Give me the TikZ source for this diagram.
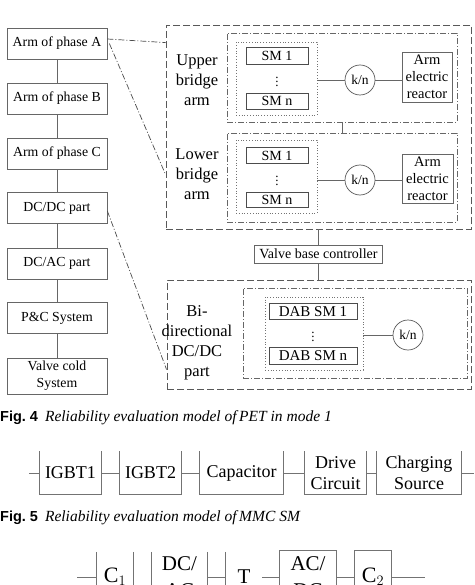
\documentclass[tikz,border=0pt]{standalone}
\usepackage{fontspec}
\setmainfont{Liberation Serif}
\newfontfamily\capsans{Liberation Sans}
\begin{document}
\begin{tikzpicture}[x=1pt,y=-1pt,
  lbox/.style={draw=black!60, line width=0.7pt, minimum width=100pt, minimum height=31pt, inner sep=0pt, align=center, font=\fontsize{13.8}{17}\selectfont},
  link/.style={draw=black!60, line width=0.7pt},
  bigdash/.style={draw=black!65, line width=0.9pt, dash pattern=on 7pt off 3pt, inner sep=0pt},
  armbox/.style={draw=black!60, line width=0.8pt, dash pattern=on 6pt off 2pt on 1pt off 2pt, inner sep=0pt},
  stackbox/.style={draw=black!55, line width=0.8pt, dotted, inner sep=0pt},
  smbox/.style={draw=black!70, line width=0.8pt, inner sep=0pt, font=\fontsize{14}{16}\selectfont},
  dotsnode/.style={inner sep=0pt, font=\fontsize{13}{14}\selectfont},
  knode/.style={draw=black!65, line width=0.7pt, circle, minimum size=30pt, inner sep=0pt, font=\fontsize{13.5}{16}\selectfont},
  reactor/.style={draw=black!60, line width=0.7pt, inner sep=0pt, align=center, font=\fontsize{14.5}{17}\selectfont},
  sidelabel/.style={align=center, inner sep=0pt, font=\fontsize{16.5}{20}\selectfont},
  conn/.style={draw=black!70, line width=0.7pt, dash pattern=on 6pt off 2pt on 1pt off 2pt},
  rowbox/.style={inner sep=0pt, minimum height=43pt, align=center, font=\fontsize{18}{21}\selectfont},
  rowline/.style={draw=black!55, line width=0.8pt},
  capnode/.style={anchor=west, inner sep=0pt}
]
\useasboundingbox (0,0) rectangle (474,585);

% left column
\node[lbox] (A) at (57,43.5) {Arm of phase A};
\node[lbox] (B) at (57,98.5) {Arm of phase B};
\node[lbox] (C) at (57,153.5) {Arm of phase C};
\node[lbox] (dcdc) at (57,208) {DC/DC part};
\node[lbox] (dcac) at (57,263.5) {DC/AC part};
\node[lbox] (pc) at (57,318) {P\&C System};
\node[lbox, minimum height=36pt] (vc) at (57,376) {Valve cold\\System};
\draw[link] (A) -- (B);
\draw[link] (B) -- (C);
\draw[link] (C) -- (dcdc);
\draw[link] (dcdc) -- (dcac);
\draw[link] (dcac) -- (pc);
\draw[link] (pc) -- (vc);

% MMC big box
\node[bigdash, minimum width=305pt, minimum height=204pt] (mmc) at (318.5,127) {};
\node[armbox, minimum width=230pt, minimum height=89pt] (upper) at (342,77.5) {};
\node[armbox, minimum width=230pt, minimum height=89pt] (lower) at (342,177.5) {};
\draw[link] (upper) -- (lower);

\node[sidelabel] (ulab) at (197,80) {Upper\\bridge\\arm};
\node[sidelabel] (llab) at (197,174) {Lower\\bridge\\arm};

% upper arm content
\node[stackbox, minimum width=81pt, minimum height=73pt] (ustack) at (276.5,78.5) {};
\node[smbox, minimum width=62pt, minimum height=17pt] (usm1) at (277,55.5) {SM 1};
\node[smbox, minimum width=62pt, minimum height=16pt] (usmn) at (277,101) {SM n};
\node[dotsnode] (udots) at (277,79) {$\vdots$};
\node[knode] (uk) at (360,80) {k/n};
\node[reactor, minimum width=50pt, minimum height=50pt] (ur) at (427,77) {Arm\\electric\\reactor};
\draw[link] (ustack.east |- uk) -- (uk);
\draw[link] (uk) -- (ur.west |- uk);

% lower arm content
\node[stackbox, minimum width=81pt, minimum height=73pt] (lstack) at (276.5,176.5) {};
\node[smbox, minimum width=62pt, minimum height=16pt] (lsm1) at (277,155.5) {SM 1};
\node[smbox, minimum width=62pt, minimum height=15pt] (lsmn) at (277,200) {SM n};
\node[dotsnode] (ldots) at (277,178) {$\vdots$};
\node[knode] (lk) at (360,180) {k/n};
\node[reactor, minimum width=51pt, minimum height=49pt] (lr) at (427.5,178.5) {Arm\\electric\\reactor};
\draw[link] (lstack.east |- lk) -- (lk);
\draw[link] (lk) -- (lr.west |- lk);

% valve base controller
\node[draw=black!60, line width=0.7pt, minimum width=128pt, minimum height=18pt, inner sep=0pt, font=\fontsize{14}{16}\selectfont] (vbc) at (318.5,254) {Valve base controller};

% bidirectional box
\node[bigdash, minimum width=304pt, minimum height=109pt] (bidir) at (319,334.5) {};
\draw[link] (mmc.south) -- (vbc.north);
\draw[link] (vbc.south) -- (vbc.south |- bidir.north);
\node[armbox, minimum width=224pt, minimum height=90pt] (dabarm) at (355,333) {};
\node[stackbox, minimum width=98pt, minimum height=73pt] (dstack) at (314,333.5) {};
\node[smbox, minimum width=88pt, minimum height=16pt, font=\fontsize{15}{17}\selectfont] (dsm1) at (313,311.5) {DAB SM 1};
\node[smbox, minimum width=88pt, minimum height=17pt, font=\fontsize{15}{17}\selectfont] (dsmn) at (313,355.5) {DAB SM n};
\node[dotsnode] (ddots) at (313,334) {$\vdots$};
\node[knode] (dk) at (408,335) {k/n};
\draw[link] (dstack.east |- dk) -- (dk);
\node[sidelabel] (blab) at (197,343) {Bi-\\directional\\DC/DC\\part};

% dash-dot connectors
\draw[conn] ([yshift=4.5pt]A.east) -- ([yshift=-18pt]mmc.north west);
\draw[conn] ([xshift=2pt]A.east) -- ([yshift=-150pt]mmc.north west);
\draw[conn] ([yshift=-3pt]dcdc.east) -- ([yshift=-90pt]bidir.north west);

% Fig. 4 caption
\node[capnode] (cap4) at (0,418) {{\capsans\bfseries\fontsize{14.5}{16}\selectfont Fig.~4}\hspace{7pt}{\itshape\fontsize{15.5}{17}\selectfont Reliability evaluation model of\,PET in mode 1}};

% series model of MMC SM
\coordinate (r0) at (29,473);
\node[rowbox, minimum width=61pt] (igbt1) at (70.5,473) {IGBT1};
\node[rowbox, minimum width=61pt] (igbt2) at (150.5,473) {IGBT2};
\node[rowbox, minimum width=83pt] (cap) at (241.5,473) {Capacitor};
\node[rowbox, minimum width=61pt] (drive) at (335.5,473) {Drive\\Circuit};
\node[rowbox, minimum width=84pt] (charge) at (419,473) {Charging\\Source};
\coordinate (r1) at (474,473);
\foreach \n in {igbt1,igbt2,cap,drive,charge}{
  \draw[rowline] (\n.north west) -- (\n.south west) -- (\n.south east) -- (\n.north east);
}
\draw[rowline] (r0) -- (igbt1.west);
\draw[rowline] (igbt1.east) -- (igbt2.west);
\draw[rowline] (igbt2.east) -- (cap.west);
\draw[rowline] (cap.east) -- (drive.west);
\draw[rowline] (drive.east) -- (charge.west);
\draw[rowline] (charge.east) -- (r1);

% Fig. 5 caption
\node[capnode] (cap5) at (0,518) {{\capsans\bfseries\fontsize{14.5}{16}\selectfont Fig.~5}\hspace{7pt}{\itshape\fontsize{15.5}{17}\selectfont Reliability evaluation model of\,MMC SM}};

% partial next row
\coordinate (s0) at (77,577);
\node[inner sep=0pt, minimum width=36pt, minimum height=50pt, font=\fontsize{22}{24}\selectfont] (c1) at (115,577) {C$_1$};
\node[inner sep=0pt, minimum width=55pt, minimum height=50pt, align=center, font=\fontsize{21}{27}\selectfont] (dcacb) at (179.5,577) {DC/\\AC};
\node[inner sep=0pt, minimum width=36pt, minimum height=50pt, font=\fontsize{21}{24}\selectfont] (tb) at (244,577) {T};
\node[inner sep=0pt, minimum width=56pt, minimum height=52pt, align=center, font=\fontsize{21}{27}\selectfont] (acdcb) at (308,577) {AC/\\DC};
\node[inner sep=0pt, minimum width=36pt, minimum height=52pt, font=\fontsize{22}{24}\selectfont] (c2) at (373,577) {C$_2$};
\coordinate (s1) at (425,577);
\draw[rowline] (c1.north west) -- (c1.south west);
\draw[rowline] (c1.north east) -- (c1.south east);
\draw[rowline] (dcacb.north west) -- (dcacb.south west);
\draw[rowline] (dcacb.north east) -- (dcacb.south east);
\draw[rowline] (tb.north west) -- (tb.south west);
\draw[rowline] (acdcb.south west) -- (acdcb.north west) -- (acdcb.north east) -- (acdcb.south east);
\draw[rowline] (c2.south west) -- (c2.north west) -- (c2.north east) -- (c2.south east);
\draw[rowline] (s0) -- (c1.west);
\draw[rowline] (dcacb.east) -- (tb.west);
\draw[rowline] ([xshift=18pt]tb.center) -- (acdcb.west);
\draw[rowline] (acdcb.east) -- (c2.west);
\draw[rowline] (c2.east) -- (s1);
\end{tikzpicture}
\end{document}
